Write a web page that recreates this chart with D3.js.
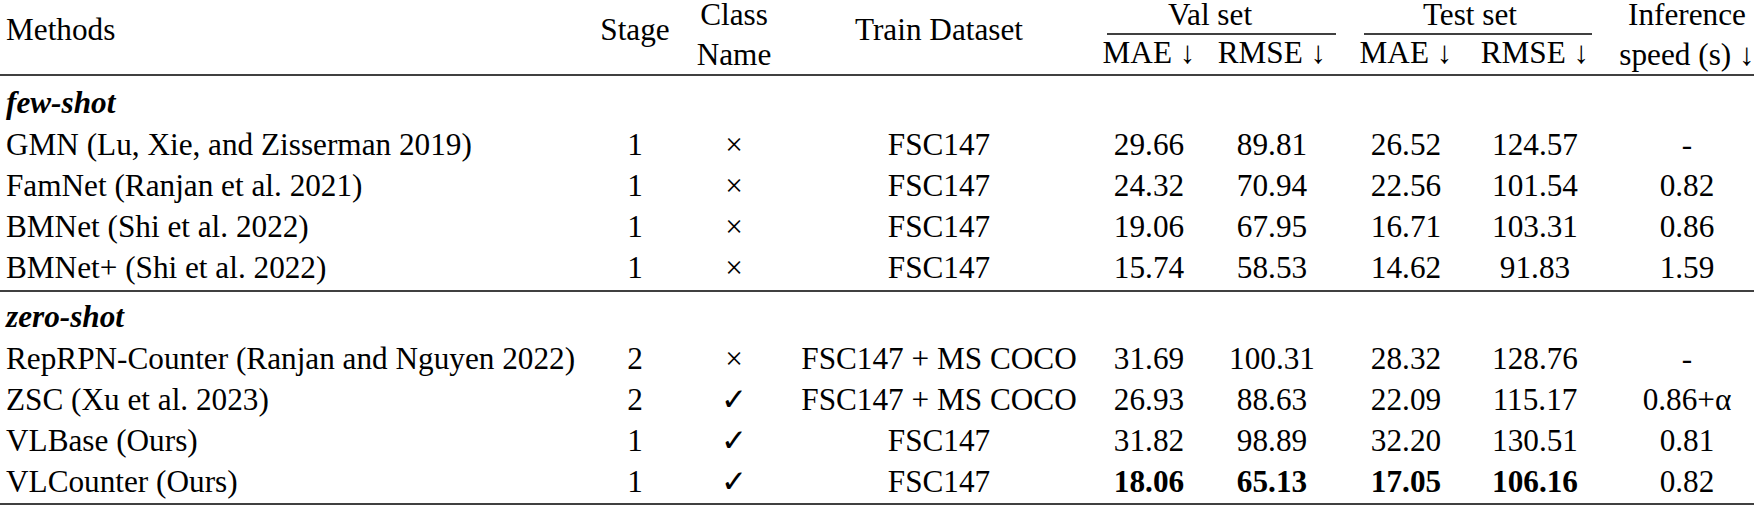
<!DOCTYPE html>
<html><head><meta charset="utf-8">
<script src="https://cdn.jsdelivr.net/npm/d3@7"></script>
<style>body{margin:0;background:#fff}svg{display:block}</style>
</head><body><svg id="c" width="1757" height="507"></svg>
<script>
const groups = ["few-shot","zero-shot"];
const methods = ["GMN (Lu, Xie, and Zisserman 2019)","FamNet (Ranjan et al. 2021)","BMNet (Shi et al. 2022)","BMNet+ (Shi et al. 2022)",
  "RepRPN-Counter (Ranjan and Nguyen 2022)","ZSC (Xu et al. 2023)","VLBase (Ours)","VLCounter (Ours)"];
const stage = ["1","1","1","1","2","2","1","1"];
const className = ["×","×","×","×","×","✓","✓","✓"];
const trainDataset = ["FSC147","FSC147","FSC147","FSC147","FSC147 + MS COCO","FSC147 + MS COCO","FSC147","FSC147"];
const valMAE = ["29.66","24.32","19.06","15.74","31.69","26.93","31.82","18.06"];
const valRMSE = ["89.81","70.94","67.95","58.53","100.31","88.63","98.89","65.13"];
const testMAE = ["26.52","22.56","16.71","14.62","28.32","22.09","32.20","17.05"];
const testRMSE = ["124.57","101.54","103.31","91.83","128.76","115.17","130.51","106.16"];
const speed = ["-","0.82","0.86","1.59","-","0.86+α","0.81","0.82"];
const boldRow = 7;
const boldCols = ["valMAE","valRMSE","testMAE","testRMSE"];

const svg = d3.select("#c");
const FONT = "'Liberation Serif', 'Times New Roman', Times, 'DejaVu Serif', serif";
// calibrate font size so the widest method label matches reference width
const probe = svg.append("text").attr("font-family",FONT).attr("font-size",30).text(methods[0]);
const plen = probe.node().getComputedTextLength(); probe.remove();
const fs = Math.min(34, Math.max(24, 30*466/plen));

const cols = [
 {key:"methods", x:6, anchor:"start", data:methods},
 {key:"stage", x:635, anchor:"middle", data:stage},
 {key:"class", x:734, anchor:"middle", data:className},
 {key:"train", x:939, anchor:"middle", data:trainDataset},
 {key:"valMAE", x:1149, anchor:"middle", data:valMAE},
 {key:"valRMSE", x:1272, anchor:"middle", data:valRMSE},
 {key:"testMAE", x:1406, anchor:"middle", data:testMAE},
 {key:"testRMSE", x:1535, anchor:"middle", data:testRMSE},
 {key:"speed", x:1687, anchor:"middle", data:speed}
];
const slots = ["g0",0,1,2,3,"g1",4,5,6,7];
const y = d3.scalePoint().domain(d3.range(slots.length)).range([103,474]);
const yRow = i => y(i) + (i>=5 ? 8 : 0);

function txt(x,yy,s,anchor,opt={}){
  svg.append("text").attr("x",x).attr("y",yy).attr("dy","0.33em").attr("text-anchor",anchor)
   .attr("font-family",FONT).attr("fill","#000")
   .attr("font-size",opt.fs||fs).attr("font-weight",opt.bold?"bold":null).attr("font-style",opt.italic?"italic":null).text(s);
}
const headers = [
 [6,30,"Methods","start"],[635,30,"Stage","middle"],[734,15,"Class","middle"],[734,55,"Name","middle"],
 [939,30,"Train Dataset","middle"],[1210,15,"Val set","middle"],[1470,15,"Test set","middle"],
 [1687,15,"Inference","middle"],[1687,55,"speed (s) ↓","middle"],
 [1149,53,"MAE ↓","middle"],[1272,53,"RMSE ↓","middle"],[1406,53,"MAE ↓","middle"],[1535,53,"RMSE ↓","middle"]
];
headers.forEach(h=>txt(h[0],h[1],h[2],h[3]));
function line(x1,x2,yy,w){svg.append("line").attr("x1",x1).attr("x2",x2).attr("y1",yy).attr("y2",yy).attr("stroke","#000").attr("stroke-width",w);}
line(1107,1336,34,1.3); line(1364,1592,34,1.3);
line(0,1754,75,1.6); line(0,1754,291,1.6); line(0,1754,504,1.6);

slots.forEach((s,i)=>{
  const yy = yRow(i);
  if(typeof s==="string"){ txt(6,yy,groups[+s[1]],"start",{bold:true,italic:true}); return; }
  cols.forEach(c=>{
    txt(c.x,yy,c.data[s],c.anchor,{bold: s===boldRow && boldCols.includes(c.key)});
  });
});
</script></body></html>
